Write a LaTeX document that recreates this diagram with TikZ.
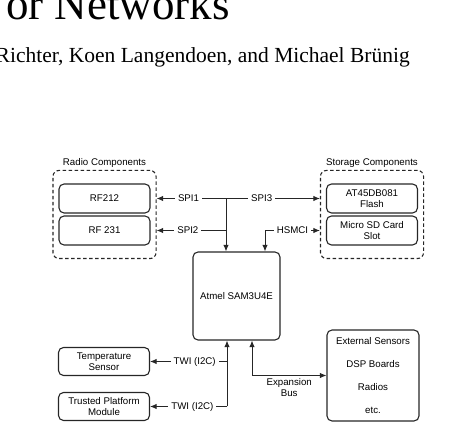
\documentclass[tikz,border=0pt]{standalone}
\usepackage{fontspec}
\setmainfont{Liberation Serif}
\setsansfont{Liberation Sans}
\usepackage{tikz}
\usetikzlibrary{arrows.meta, fit}
\tikzstyle{comp} = [rectangle, rounded corners=5pt, minimum width=91pt, minimum height=29pt, text centered, align=center, draw=black!85, line width=1.1pt, font=\sffamily\fontsize{9.7}{11.5}\selectfont]
\tikzstyle{bigcomp} = [comp, minimum width=87pt, minimum height=88pt]
\tikzstyle{group} = [rectangle, rounded corners=6pt, draw=black!85, line width=1.1pt, dash pattern=on 3.5pt off 2.5pt, inner xsep=5.5pt, inner ysep=13pt]
\tikzstyle{grouplbl} = [anchor=south, inner sep=2pt, font=\sffamily\fontsize{9.7}{11.5}\selectfont]
\tikzstyle{lbl} = [fill=white, inner sep=3pt, align=center, font=\sffamily\fontsize{9.7}{11.5}\selectfont]
\tikzstyle{arrow} = [line width=1pt, draw=black!85, -{Latex[length=6.5pt,width=5.5pt]}]
\tikzstyle{dblarrow} = [line width=1pt, draw=black!85, {Latex[length=6.5pt,width=5.5pt]}-{Latex[length=6.5pt,width=5.5pt]}]
\begin{document}
\begin{tikzpicture}[x=1pt, y=-1pt, node distance=32pt]
\useasboundingbox (0,0) rectangle (474,443);
\clip (0,0) rectangle (474,443);

% page text around the figure
\node (title) [anchor=base east, inner sep=0pt, font=\fontsize{45}{45}\selectfont] at (230,20) {or Networks};
\node (authors) [anchor=base east, inner sep=0pt, font=\fontsize{21.5}{21.5}\selectfont] at (410,63) {Richter, Koen Langendoen, and Michael Brünig};

\node (rf1) [comp] at (104.5,198.5) {RF212};
\node (rf2) [comp, below of=rf1] {RF 231};
\node (flash) [comp] at (372,198.5) {AT45DB081\\Flash};
\node (sd) [comp, below of=flash] {Micro SD Card\\Slot};

\node (radio) [group, fit=(rf1)(rf2)] {};
\node (store) [group, fit=(flash)(sd)] {};
\node (radiolbl) [grouplbl] at (radio.north) {Radio Components};
\node (storelbl) [grouplbl] at (store.north) {Storage Components};

\node (mcu) [bigcomp] at (236.5,296) {Atmel SAM3U4E};

\node (temp) [comp, minimum height=28pt] at (104,361.5) {Temperature\\Sensor};
\node (tpm) [comp, minimum height=28pt, below of=temp, node distance=45pt] {Trusted Platform\\Module};
\node (ext) [comp, minimum width=92pt, minimum height=91pt] at (373,375.5) {External Sensors\\[11.5pt]DSP Boards\\[11.5pt]Radios\\[11.5pt]etc.};

\coordinate (spi) at (226,198.5);
\coordinate (spitwo) at (226,230.5);
\coordinate (hsm) at (265,230.5);
\coordinate (twi) at (227,406.5);
\coordinate (twione) at (227,361.5);
\coordinate (exp) at (252,375.5);

\draw [arrow] (spi) -- node[lbl, pos=0.54] {SPI1} (radio.east |- spi);
\draw [arrow] (spi) -- node[lbl, pos=0.38] {SPI3} (store.west |- spi);
\draw [arrow] (spi) -- (mcu.north -| spi);
\draw [arrow] (spitwo) -- node[lbl, pos=0.55] {SPI2} (radio.east |- spitwo);
\draw [dblarrow] (store.west |- hsm) -- node[lbl] {HSMCI} (hsm) -- (mcu.north -| hsm);

\draw [arrow] (twi) -- (mcu.south -| twi);
\draw [arrow] (twione) -- node[lbl, pos=0.42] {TWI (I2C)} (temp.east |- twione);
\draw [arrow] (twi) -- node[lbl, pos=0.45] {TWI (I2C)} (tpm.east |- twi);
\draw [dblarrow] (mcu.south -| exp) |- node[lbl, fill=none, below, pos=0.75, inner sep=2pt] {Expansion\\Bus} (ext.west);

\end{tikzpicture}
\end{document}
